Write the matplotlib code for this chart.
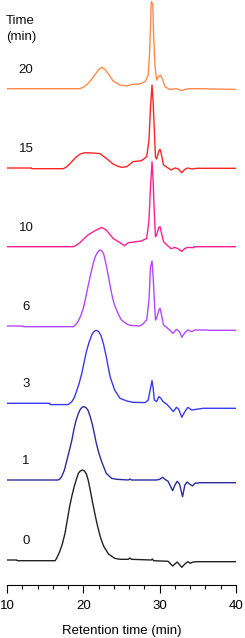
import matplotlib
matplotlib.use("Agg")
import matplotlib.pyplot as plt
from matplotlib.ticker import MultipleLocator

plt.rcParams['font.family'] = ['Liberation Sans', 'DejaVu Sans']

# Sampling times (min) at which each trace's detector signal was read
labels = ["20", "15", "10", "6", "3", "1", "0"]
colors = ["#FF8A4C", "#FF2424", "#FF1F8F", "#B347FF", "#3A3AF0", "#2B2B9E", "#222222"]

t20 = [10, 19.55, 20.0, 20.4, 21.0, 21.5, 22.0, 22.4, 22.8, 23.3, 23.9, 24.8, 25.7, 26.3, 27.4, 28.1, 28.5, 28.7, 28.9, 29.1, 29.2, 29.4, 29.6, 29.85, 30.1, 30.4, 30.7, 31.3, 32.2, 32.9, 33.3, 33.9, 35.2, 40]
s20 = [0, 0, 1.5, 3.7, 8.5, 13.7, 19, 21.3, 19.5, 14.7, 7.7, 3.7, 2.7, 4.3, 4.7, 7, 13.7, 38.7, 87, 85, 55, 22, 8.7, 12, 13.7, 8.7, 2, -0.7, 0, -2, -0.7, 0, 0, -0.7]

t15 = [10, 13.2, 13.25, 17.4, 17.8, 18.2, 19.1, 19.6, 20.2, 21.3, 22.2, 23.0, 23.9, 24.5, 25.0, 25.7, 26.5, 27.6, 28.3, 28.6, 28.8, 29.0, 29.15, 29.3, 29.45, 29.6, 29.9, 30.05, 30.2, 30.5, 31.1, 31.5, 32.0, 32.4, 32.9, 33.3, 33.7, 34.2, 34.6, 34.8, 40]
s15 = [0, 0, -0.7, -0.7, 1.2, 4, 11.3, 14, 15.3, 15, 14.3, 9.7, 4, 1.8, 0.7, 1.3, 6.3, 7.3, 11.3, 28, 61, 83, 65, 38, 11, 9, 17, 18.7, 14.7, 3, 0, -2, 0, -0.7, -4.7, -1.3, 0, -1, -0.7, -0.3, -0.3]

t10 = [10, 18.7, 19.1, 19.55, 20.6, 21.2, 21.7, 22.4, 23.0, 23.5, 23.9, 24.8, 25.4, 25.9, 27.6, 28.3, 28.6, 28.8, 29.0, 29.15, 29.3, 29.45, 29.6, 29.9, 30.05, 30.2, 30.5, 31.1, 31.5, 32.0, 32.4, 32.9, 33.3, 33.7, 34.4, 34.5, 40]
s10 = [0, 0, 1.5, 4, 11.7, 14.5, 16.7, 19.3, 16.7, 12, 8.3, 4, 1, 4, 5.7, 8.3, 26.7, 60, 85, 65, 33, 10, 11.7, 19.3, 20, 15, 5, 0.7, -2, -0.7, -2, -4.7, -1.7, -0.7, -1, 0, 0]

t6 = [10, 12.1, 12.15, 18.7, 19.0, 19.3, 19.65, 20.0, 20.3, 20.6, 20.95, 21.3, 21.55, 21.8, 22.05, 22.25, 22.5, 22.7, 23.0, 23.3, 23.7, 24.0, 24.35, 24.7, 25.0, 25.7, 26.1, 27.4, 27.8, 28.3, 28.6, 28.8, 29.0, 29.15, 29.3, 29.45, 29.6, 29.9, 30.05, 30.2, 30.5, 30.9, 31.3, 31.75, 32.2, 32.6, 32.9, 33.3, 33.7, 34.2, 34.6, 36.3, 36.35, 40]
s6 = [0, 0, -0.7, -0.7, 1.5, 4.3, 10, 17.7, 28, 39, 51.5, 62.7, 69, 73, 75.3, 76, 74.5, 71, 61, 49, 32.7, 23, 16, 10, 6, 2, 0.7, 0, 2, 6, 26, 59, 65, 49, 26, 6, 7.7, 16, 17.7, 12.7, 1, -1.3, -4, -7.3, -3.3, -5.7, -11.3, -6.7, -4, -5.7, -4, -4, -4.3, -4.3]

t3 = [10, 15.6, 15.65, 18.0, 18.5, 18.8, 19.1, 19.45, 19.8, 20.1, 20.4, 20.75, 21.1, 21.4, 21.7, 22.0, 22.3, 22.65, 23.0, 23.5, 24.1, 24.8, 25.7, 26.5, 28.1, 28.5, 28.8, 29.0, 29.15, 29.3, 29.6, 29.9, 30.15, 30.45, 30.9, 31.3, 31.8, 32.2, 32.5, 32.9, 33.3, 33.7, 34.2, 34.8, 35.7, 40]
s3 = [0, 0, -1.3, -1.3, 1.7, 5.5, 11.7, 20, 30, 41, 51.7, 61, 68.3, 71.8, 73, 71.8, 68, 59, 46.7, 26.7, 13.3, 5, 2.3, 1, 0.7, 3.3, 15, 22.7, 15, 3.3, 1.7, 6.7, 5, 1.7, -0.7, -4, -8.3, -4, -6, -14, -8.3, -4, -6.7, -6, -5, -5]

t1 = [10, 16.7, 16.95, 17.15, 17.5, 17.8, 18.15, 18.5, 18.75, 19.0, 19.3, 19.6, 19.85, 20.1, 20.35, 20.6, 20.9, 21.2, 21.45, 21.7, 22.05, 22.4, 23.0, 23.7, 24.35, 25.9, 26.1, 26.3, 29.6, 30.0, 30.4, 30.7, 31.1, 31.7, 32.0, 32.3, 32.6, 33.0, 33.3, 33.6, 33.9, 34.3, 34.6, 35.3, 40]
s1 = [0, 0, 1.2, 3.3, 9.5, 18.3, 29, 40, 50, 58.3, 65.5, 70.7, 72.8, 73.3, 72.3, 70, 63.5, 55, 46, 36.7, 26.5, 18.3, 6.7, 1.7, 0.7, 0, 1, 0, 0, 0.7, 2.7, 0.7, -1.3, -10.7, -5, -1.3, -4, -16.7, -5, -2, -4, -6, -3.3, -2.7, -2.7]

t0 = [10, 11.3, 11.35, 16.3, 16.5, 16.9, 17.25, 17.6, 17.9, 18.2, 18.5, 18.8, 19.1, 19.35, 19.6, 19.9, 20.15, 20.4, 20.65, 20.9, 21.2, 21.5, 21.8, 22.1, 22.4, 22.7, 23.3, 24.1, 24.8, 25.9, 26.1, 26.3, 28.9, 29.05, 29.2, 31.1, 31.7, 32.1, 32.3, 32.9, 33.3, 33.7, 34.0, 34.4, 34.8, 40]
s0 = [0, 0, -0.7, -0.7, 1.7, 8.3, 16, 26.7, 40, 53.3, 64, 73.3, 81, 86.7, 89, 90, 89, 86, 79.5, 70, 58, 46.7, 36, 26.7, 19, 13.3, 6, 1.7, 0.7, 0.7, 2, 0.7, 0, 1, -0.7, -1.3, -6, -3.3, -2, -7.3, -4, -1.7, -3.3, -2, -1.7, -1.7]

times = [t20, t15, t10, t6, t3, t1, t0]
signals = [s20, s15, s10, s6, s3, s1, s0]

# vertical stacking offsets (layout)
offsets = [496.3, 417, 338.3, 259, 181.7, 105, 25]

W, H = 245, 638
fig = plt.figure(figsize=(W / 100, H / 100), dpi=100)
ax = fig.add_axes([7 / W, (H - 585) / H, 229 / W, 585 / H])

for t, s, off, c in zip(times, signals, offsets, colors):
    ax.plot(t, [v + off for v in s], color=c, lw=1.0, solid_joinstyle='round')

FS = 9.5
for lab, off in zip(labels, offsets):
    ax.text(19 / 229 * 30 + 10, off + 19, lab, ha='center', va='center', fontsize=FS, color='#111111')

ax.text(10 - 1 / 7.64, 585 - 21, "Time", ha='left', va='center', fontsize=FS, color='#111111')
ax.text(10 - 1 / 7.64, 585 - 37, "(min)", ha='left', va='center', fontsize=FS, color='#111111')

ax.set_xlim(10, 40)
ax.set_ylim(0, 585)
for sp in ['left', 'right', 'top']:
    ax.spines[sp].set_visible(False)
ax.spines['bottom'].set_linewidth(0.8)
ax.set_yticks([])
ax.xaxis.set_major_locator(MultipleLocator(10))
ax.xaxis.set_minor_locator(MultipleLocator(2))
ax.tick_params(axis='x', which='major', length=6, width=0.8, labelsize=FS, pad=5)
ax.tick_params(axis='x', which='minor', length=3, width=0.8)
ax.set_xlabel("Retention time (min)", fontsize=FS, labelpad=9)
ax.patch.set_alpha(0)

fig.savefig("out.png", dpi=100)
